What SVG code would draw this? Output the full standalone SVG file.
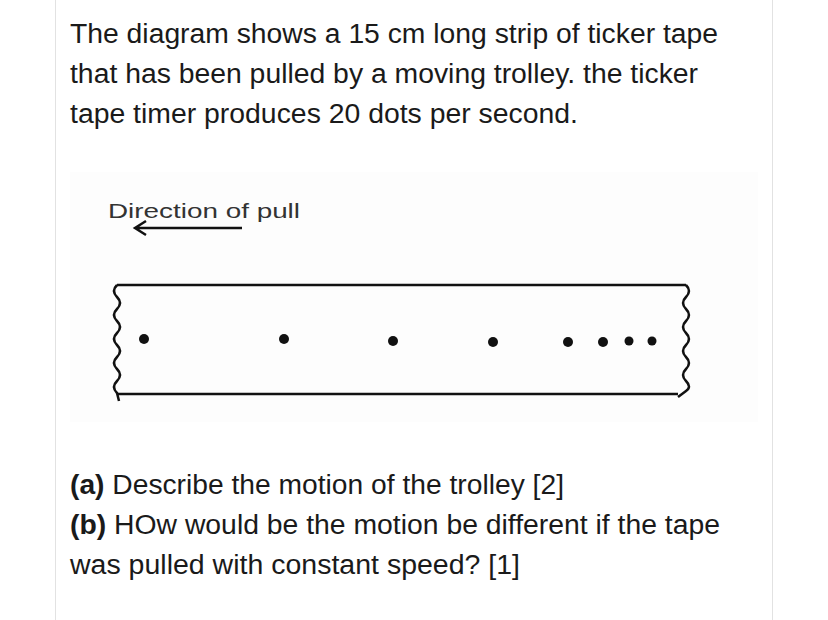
<svg xmlns="http://www.w3.org/2000/svg" width="828" height="620" viewBox="0 0 828 620">
<style>
.t{font-family:"Liberation Sans",Arial,sans-serif;font-size:27px;fill:#1a1a1a}
.s{font-family:"Liberation Sans",Arial,sans-serif;font-size:21px;fill:#333}
.ln{fill:none;stroke:#111;stroke-width:2.5}
</style>
<rect width="828" height="620" fill="#fff"/>
<line x1="55.5" y1="0" x2="55.5" y2="620" stroke="#e2e2e2"/>
<line x1="772.5" y1="0" x2="772.5" y2="620" stroke="#e2e2e2"/>
<text class="t" x="70" y="43" textLength="648" lengthAdjust="spacingAndGlyphs">The diagram shows a 15 cm long strip of ticker tape</text>
<text class="t" x="70" y="83" textLength="628" lengthAdjust="spacingAndGlyphs">that has been pulled by a moving trolley. the ticker</text>
<text class="t" x="70" y="123" textLength="508" lengthAdjust="spacingAndGlyphs">tape timer produces 20 dots per second.</text>
<rect x="70" y="172" width="688" height="250" fill="#fdfdfd"/>
<g id="label">
<text class="s" x="108" y="218" textLength="192" lengthAdjust="spacingAndGlyphs">Direction of pull</text>
</g>
<g id="arrow">
<path class="ln" d="M242 228 H136 M146 221 L135 228 L146 235" stroke-width="2"/>
</g>
<g id="tape">
<path class="ln" d="M117 285 H686 M118 394 H678"/>
<path class="ln" stroke-width="2" d="M117 285 q-6 6 0 12 q6 6 0 12 q-6 6 0 12 q6 6 0 12 q-6 6 0 12 q6 6 0 12 q-6 6 0 12 q6 6 0 12 q-6 6 0 12 l2 8"/>
<path class="ln" stroke-width="2" d="M686 285 q6 6 0 12 q-6 6 0 12 q6 6 0 12 q-6 6 0 12 q6 6 0 12 q-6 6 0 12 q6 6 0 12 q-6 6 0 12 q6 6 0 10 l-8 6"/>
<g fill="#111">
<circle cx="144" cy="339" r="5"/>
<circle cx="284" cy="339" r="5"/>
<circle cx="393" cy="341" r="5"/>
<circle cx="493" cy="342" r="5"/>
<circle cx="568" cy="342" r="5"/>
<circle cx="603" cy="342" r="5"/>
<circle cx="629" cy="341" r="4.5"/>
<circle cx="652" cy="341" r="4.5"/>
</g>
</g>
<text class="t" x="70" y="494" textLength="494" lengthAdjust="spacingAndGlyphs"><tspan font-weight="bold">(a)</tspan> Describe the motion of the trolley [2]</text>
<text class="t" x="70" y="534" textLength="650" lengthAdjust="spacingAndGlyphs"><tspan font-weight="bold">(b)</tspan> HOw would be the motion be different if the tape</text>
<text class="t" x="70" y="574" textLength="450" lengthAdjust="spacingAndGlyphs">was pulled with constant speed? [1]</text>
</svg>
